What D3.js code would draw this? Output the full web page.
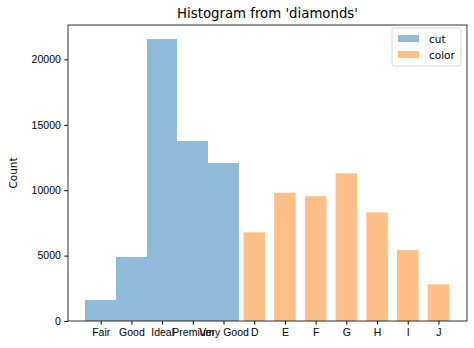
<!DOCTYPE html>
<html>
<head>
<meta charset="UTF-8">
<script src="https://d3js.org/d3.v7.min.js"></script>
<style>
  body { margin: 0; background: #fff; }
  svg { font-family: "DejaVu Sans", sans-serif; }
</style>
</head>
<body>
<div id="chart"></div>
<script>
  // data (diamonds counts)
  const cutCats = ["Fair", "Good", "Ideal", "Premium", "Very Good"];
  const cutCounts = [1610, 4906, 21551, 13791, 12082];
  const colorCats = ["D", "E", "F", "G", "H", "I", "J"];
  const colorCounts = [6775, 9797, 9542, 11292, 8304, 5422, 2808];
  const yTicks = [0, 5000, 10000, 15000, 20000];

  const width = 474, height = 348;
  const margin = {left: 68, right: 7, top: 25, bottom: 27};
  const fs = 10.5;

  const svg = d3.select("#chart").append("svg")
    .attr("width", width).attr("height", height);

  const allCats = cutCats.concat(colorCats);
  const x = d3.scaleLinear()
    .domain([-1.065, 11.93])
    .range([margin.left, width - margin.right]);
  const y = d3.scaleLinear()
    .domain([0, d3.max(cutCounts) * 1.05])
    .range([height - margin.bottom, margin.top]);

  const unit = x(1) - x(0);

  // cut bars: full width, drawn as one path so no seams show between them
  const cutPath = d3.path();
  cutCounts.forEach((d, i) => {
    cutPath.rect(x(i - 0.5), y(d), unit, y(0) - y(d));
  });
  svg.append("path").attr("d", cutPath.toString())
    .attr("fill", "#1f77b4").attr("fill-opacity", 0.5)
    .attr("shape-rendering", "crispEdges");

  // color bars: narrower
  svg.selectAll(".color").data(colorCounts).enter().append("rect")
    .attr("x", (d, i) => x(i + cutCats.length - 0.35))
    .attr("width", unit * 0.7)
    .attr("y", d => y(d))
    .attr("height", d => y(0) - y(d))
    .attr("fill", "#ff7f0e").attr("fill-opacity", 0.5);

  // x axis
  const xAxis = svg.append("g")
    .attr("transform", `translate(0,${height - margin.bottom})`)
    .call(d3.axisBottom(x).tickValues(d3.range(allCats.length))
      .tickFormat(i => allCats[i]).tickSize(3.6).tickPadding(3.6));
  xAxis.select(".domain").remove();
  xAxis.selectAll("text").attr("font-size", fs).attr("fill", "#000");

  // y axis
  const yAxis = svg.append("g")
    .attr("transform", `translate(${margin.left},0)`)
    .call(d3.axisLeft(y).tickValues(yTicks).tickFormat(d3.format("d"))
      .tickSize(3.6).tickPadding(3.6));
  yAxis.select(".domain").remove();
  yAxis.selectAll("text").attr("font-size", fs).attr("fill", "#000");

  // frame
  svg.append("rect")
    .attr("x", margin.left).attr("y", margin.top)
    .attr("width", width - margin.left - margin.right)
    .attr("height", height - margin.top - margin.bottom)
    .attr("fill", "none").attr("stroke", "#000").attr("stroke-width", 0.8);

  // title
  svg.append("text")
    .attr("x", (margin.left + width - margin.right) / 2).attr("y", 18)
    .attr("text-anchor", "middle").attr("font-size", 13.3)
    .text("Histogram from 'diamonds'");

  // y label
  svg.append("text")
    .attr("transform", `translate(17,${(margin.top + height - margin.bottom) / 2}) rotate(-90)`)
    .attr("text-anchor", "middle").attr("font-size", fs)
    .text("Count");

  // legend
  const lg = svg.append("g").attr("transform", "translate(392,28)");
  lg.append("rect").attr("width", 69).attr("height", 38).attr("rx", 2)
    .attr("fill", "#fff").attr("fill-opacity", 0.8)
    .attr("stroke", "#ccc").attr("stroke-width", 0.8);
  const items = [["cut", "#1f77b4"], ["color", "#ff7f0e"]];
  items.forEach((it, i) => {
    lg.append("rect").attr("x", 6).attr("y", 7 + i * 16).attr("width", 21).attr("height", 7)
      .attr("fill", it[1]).attr("fill-opacity", 0.5);
    lg.append("text").attr("x", 37).attr("y", 14.5 + i * 16)
      .attr("font-size", fs).text(it[0]);
  });
</script>
</body>
</html>
